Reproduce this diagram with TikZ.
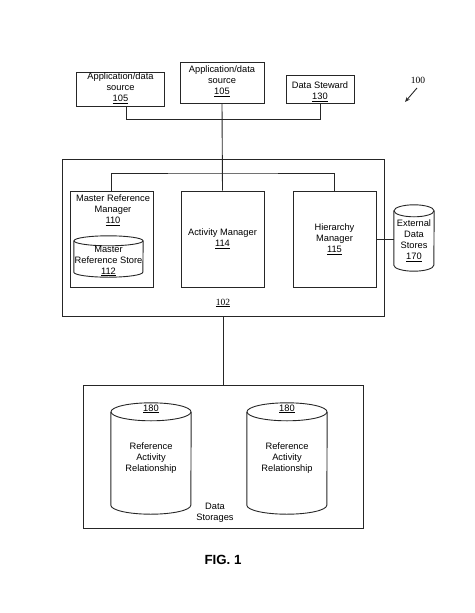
\documentclass[tikz,border=0pt]{standalone}
\usepackage{fontspec}
\setmainfont{Liberation Sans}
\newfontfamily\tnr{Liberation Serif}
\usetikzlibrary{calc,arrows.meta}
\newcommand\drawcyl[6]{% name, cx, cy, w, h, ry
  \node[inner sep=0pt, minimum width=#4pt, minimum height=#5pt] (#1) at (#2,#3) {};
  \draw[ln] ($(#1.north)+(0,#6)$) ellipse [x radius=#4/2, y radius=#6];
  \draw[ln] ($(#1.north west)+(0,#6)$) -- ($(#1.south west)+(0,-#6)$)
     arc[start angle=180, end angle=0, x radius=#4/2, y radius=#6]
     -- ($(#1.north east)+(0,#6)$);
}
\begin{document}
\begin{tikzpicture}[x=1pt,y=-1pt,
  ln/.style={draw=black!85, line width=0.9pt},
  box/.style={ln, rectangle, inner sep=0pt, align=center, font=\fontsize{9.3}{11}\selectfont},
  txt/.style={inner sep=0pt, align=center, font=\fontsize{9.3}{11}\selectfont, text=black},
  num/.style={inner sep=0pt, font=\tnr\fontsize{9.5}{11}\selectfont},
]
\useasboundingbox (0,0) rectangle (474,613);

% top sources
\node[box, minimum width=88pt, minimum height=34pt] (a1) at (120.5,89) {};
\node[txt] (a1t) at (120.5,88.5) {Application/data\\source\\\underline{105}};
\node[box, minimum width=84pt, minimum height=41pt] (a2) at (222,82.5) {};
\node[txt] (a2t) at (222,81) {Application/data\\source\\\underline{105}};
\node[box, minimum width=68pt, minimum height=28pt] (ds) at (320,89) {};
\node[txt] (dst) at (320,91.5) {Data Steward\\\underline{130}};

% label 100
\node[num] (l100) at (418,80) {100};
\coordinate (r100a) at (417,88);
\coordinate (r100b) at (405,102);
\draw[ln, -{Stealth[length=5pt,width=4pt]}] (r100a) -- (r100b);

% system box
\node[box, minimum width=322pt, minimum height=157pt] (sys) at (223,237.5) {};
\node[num] (l102) at (223,303) {\underline{102}};

\node[box, minimum width=83pt, minimum height=96pt] (mrm) at (111.5,239) {};
\node[txt] (mrmt) at (113,210) {Master Reference\\Manager\\\underline{110}};
\node[box, minimum width=83pt, minimum height=96pt] (am) at (222.5,239) {Activity Manager\\\underline{114}};
\node[box, minimum width=83pt, minimum height=96pt] (hm) at (334.5,239) {Hierarchy\\Manager\\\underline{115}};

\drawcyl{mrs}{108.5}{256.5}{69}{41}{5}
\node[txt] (mrst) at (108.5,261) {Master\\Reference Store\\\underline{112}};

\drawcyl{ext}{414}{238}{40}{66}{6}
\node[txt] (extt) at (414,240.5) {External\\Data\\Stores\\\underline{170}};

% data storages
\node[box, minimum width=280pt, minimum height=143pt] (dsto) at (223,456.5) {};
\node[txt] (dstot) at (215,512.5) {Data\\Storages};

\drawcyl{c1}{151}{458.5}{80}{111}{9}
\node[txt] (c1n) at (151,409) {\underline{180}};
\node[txt] (c1t) at (151,458) {Reference\\Activity\\Relationship};
\drawcyl{c2}{287}{458.5}{80}{111}{9}
\node[txt] (c2n) at (287,409) {\underline{180}};
\node[txt] (c2t) at (287,458) {Reference\\Activity\\Relationship};

\node[inner sep=0pt, font=\bfseries\fontsize{13.3}{15}\selectfont] (fig) at (223,560) {FIG. 1};

% connectors
\coordinate (busL) at (126,119);
\coordinate (busR) at (320,119);
\coordinate (bus2) at (223,173);
\draw[ln] (a1.south -| busL) -- (busL) -- (busR) -- (ds.south);
\draw[ln] (a2.south) -- (am.north);
\draw[ln] (mrm.north) |- (bus2) -| (hm.north);
\draw[ln] (hm.east) -- (hm.east -| ext.west);
\draw[ln] (sys.south) -- (dsto.north);
\end{tikzpicture}
\end{document}
